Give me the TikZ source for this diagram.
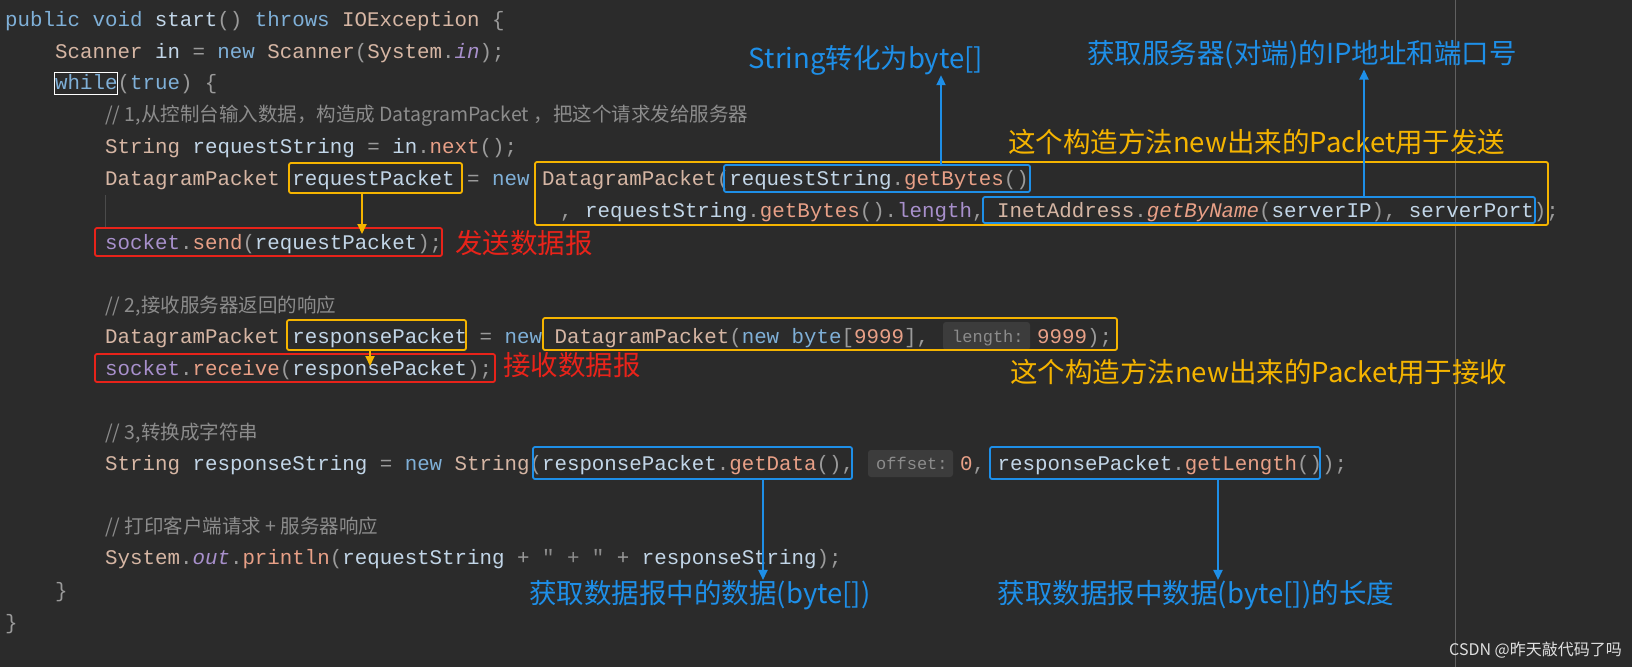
\documentclass[tikz,border=0pt]{standalone}
\usepackage{fontspec}
\setmonofont{Liberation Mono}
\newfontfamily\cjk{Noto Sans CJK SC}
\usetikzlibrary{arrows.meta}
\definecolor{bg}{HTML}{2B2B2B}
\definecolor{cty}{HTML}{D6B6A4}
\definecolor{cid}{HTML}{C2D6E8}
\definecolor{ckw}{HTML}{7FB0D8}
\definecolor{cme}{HTML}{E8A087}
\definecolor{cpu}{HTML}{9A9A9A}
\definecolor{cfi}{HTML}{A890CC}
\definecolor{ccm}{HTML}{8C8C8C}
\definecolor{ablue}{HTML}{1E8FE8}
\definecolor{ayel}{HTML}{F5B400}
\definecolor{ared}{HTML}{E8231A}
\newcommand\cT[1]{\textcolor{cty}{#1}}
\newcommand\cI[1]{\textcolor{cid}{#1}}
\newcommand\cK[1]{\textcolor{ckw}{#1}}
\newcommand\cM[1]{\textcolor{cme}{#1}}
\newcommand\cU[1]{\textcolor{cpu}{#1}}
\newcommand\cF[1]{\textcolor{cfi}{#1}}
\begin{document}
\begin{tikzpicture}[x=1pt,y=-1pt,
  code/.style={anchor=base west,inner sep=0pt,font=\ttfamily\fontsize{20.8}{20.8}\selectfont,text=cid},
  cmt/.style={anchor=base west,inner sep=0pt,font=\cjk\fontsize{19.5}{19.5}\selectfont,text=ccm},
  hint/.style={anchor=base west,inner sep=0pt,font=\ttfamily\fontsize{17}{17}\selectfont,text=ccm},
  hbox/.style={fill=white!8!bg,rounded corners=3pt},
  bbox/.style={draw=ablue,line width=1.8pt,rounded corners=2pt},
  ybox/.style={draw=ayel,line width=1.8pt,rounded corners=2pt},
  rbox/.style={draw=ared,line width=1.8pt,rounded corners=2pt},
  note/.style={inner sep=0pt,font=\cjk\fontsize{27.5}{27.5}\selectfont},
  arr/.style={line width=2pt,-{Triangle[length=10pt,width=9pt]}}]
\fill[bg] (0,0) rectangle (1632,667);
\useasboundingbox (0,0) rectangle (1632,667);
\draw[white!25!bg,line width=1pt] (1455,0) -- (1455,667);
\draw[white!15!bg,line width=1pt] (105,195) -- (105,228);
% code
\node[code] (l1) at (5,26) {\cK{public void} start\cU{()} \cK{throws} \cT{IOException} \cU{\{}};
\node[code] (l2) at (55,58) {\cT{Scanner} in \cU{=} \cK{new} \cT{Scanner}\cU{(}\cT{System}\cU{.}\cF{\textit{in}}\cU{);}};
\node[code] (l3) at (55,89) {\cK{while}\cU{(}\cK{true}\cU{) \{}};
\draw[white,line width=1pt] (54,72) rectangle (117,94);
\node[cmt] (l4) at (105,121) {// 1,从控制台输入数据，构造成 DatagramPacket ，把这个请求发给服务器};
\node[code] (l5) at (105,153) {\cT{String} requestString \cU{=} in\cU{.}\cM{next}\cU{();}};
\node[code] (l6) at (105,185) {\cT{DatagramPacket} requestPacket \cU{=} \cK{new} \cT{DatagramPacket}\cU{(}requestString\cU{.}\cM{getBytes}\cU{()}};
\node[code] (l7) at (560,217) {\cU{,} requestString\cU{.}\cM{getBytes}\cU{().}\cF{length}\cU{,} \cT{InetAddress}\cU{.}\cM{\textit{getByName}}\cU{(}serverIP\cU{),} serverPort\cU{);}};
\node[code] (l8) at (105,249) {\cF{socket}\cU{.}\cM{send}\cU{(}requestPacket\cU{);}};
\node[cmt] (l10) at (105,312) {// 2,接收服务器返回的响应};
\node[code] (l11) at (105,343) {\cT{DatagramPacket} responsePacket \cU{=} \cK{new} \cT{DatagramPacket}\cU{(}\cK{new} \cK{byte}\cU{[}\cM{9999}\cU{],}};
\fill[hbox] (943,322) rectangle (1030,350);
\node[hint] (h1) at (952,342) {length:};
\node[code] (l11b) at (1037,343) {\cM{9999}\cU{);}};
\node[code] (l12) at (105,375) {\cF{socket}\cU{.}\cM{receive}\cU{(}responsePacket\cU{);}};
\node[cmt] (l14) at (105,439) {// 3,转换成字符串};
\node[code] (l15) at (105,470) {\cT{String} responseString \cU{=} \cK{new} \cT{String}\cU{(}responsePacket\cU{.}\cM{getData}\cU{(),}};
\fill[hbox] (868,450) rectangle (953,477);
\node[hint] (h2) at (876,469) {offset:};
\node[code] (l15b) at (960,470) {\cM{0}\cU{,} responsePacket\cU{.}\cM{getLength}\cU{());}};
\node[cmt] (l17) at (105,533) {// 打印客户端请求 + 服务器响应};
\node[code] (l18) at (105,564) {\cT{System}\cU{.}\cF{\textit{out}}\cU{.}\cM{println}\cU{(}requestString \cU{+} \textcolor{ccm}{" + "} \cU{+} responseString\cU{);}};
\node[code] (l19) at (55,597) {\cU{\}}};
\node[code] (l20) at (5,629) {\cU{\}}};
% boxes
\node[ybox,minimum width=173pt,minimum height=30pt] (yreq) at (375.5,178) {};
\node[ybox,minimum width=1013pt,minimum height=63pt] (ybig1) at (1041.5,193.5) {};
\node[bbox,minimum width=306pt,minimum height=27pt] (bgb) at (877,178.5) {};
\node[bbox,minimum width=552pt,minimum height=26pt] (binet) at (1259,210) {};
\node[rbox,minimum width=347pt,minimum height=28pt] (rsend) at (268.5,242) {};
\node[ybox,minimum width=179pt,minimum height=30pt] (yresp) at (376.5,335) {};
\node[ybox,minimum width=574pt,minimum height=32pt] (ybig2) at (830,334) {};
\node[rbox,minimum width=400pt,minimum height=28pt] (rrecv) at (295,368) {};
\node[bbox,minimum width=319pt,minimum height=32pt] (bdata) at (692.5,463) {};
\node[bbox,minimum width=330pt,minimum height=32pt] (blen) at (1155,463) {};
% notes
\node[note,text=ared,anchor=west] (n1) at (455,243) {发送数据报};
\node[note,text=ared,anchor=west] (n2) at (503,365) {接收数据报};
\node[note,text=ablue] (n3) at (866,60) {String转化为byte[]};
\node[note,text=ablue] (n4) at (1302,55) {获取服务器(对端)的IP地址和端口号};
\node[note,text=ayel,anchor=west] (n5) at (1008,142) {这个构造方法new出来的Packet用于发送};
\node[note,text=ayel,anchor=west] (n6) at (1010,372) {这个构造方法new出来的Packet用于接收};
\node[note,text=ablue] (n7) at (700,595) {获取数据报中的数据(byte[])};
\node[note,text=ablue] (n8) at (1196,595) {获取数据报中数据(byte[])的长度};
\node[inner sep=0pt,font=\cjk\fontsize{16}{16}\selectfont,text=white!85!bg,anchor=east] (csdn) at (1622,650) {CSDN @昨天敲代码了吗};
% arrows
\coordinate (a1) at (362,234);
\coordinate (a2) at (370,366);
\draw[arr,ayel] (yreq.south -| a1) -- (a1);
\draw[arr,ayel] (yresp.south -| a2) -- (a2);
\coordinate (b1) at (941,165);
\coordinate (b2) at (1364,197);
\draw[arr,ablue] (b1) -- (n3.south -| b1);
\draw[arr,ablue] (b2) -- (n4.south -| b2);
\coordinate (c1) at (763,479);
\coordinate (c2) at (1218,479);
\draw[arr,ablue] (c1) -- (n7.north -| c1);
\draw[arr,ablue] (c2) -- (n8.north -| c2);
\end{tikzpicture}
\end{document}
